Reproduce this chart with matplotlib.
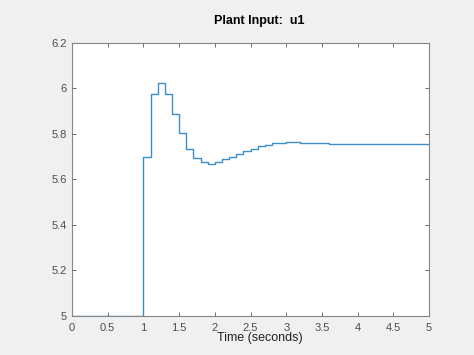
import matplotlib
matplotlib.use("Agg")
import matplotlib.pyplot as plt
import numpy as np

plt.rcParams['font.family'] = ['Liberation Sans', 'DejaVu Sans']

title = "Plant Input:  u1"
xlabel = "Time (seconds)"
sample_time = 0.1
t_start = 0.0
t_end = 5.0
initial_value = 5.0
step_time = 1.0
# sampled plant input values from t=1.0 to t=5.0, every 0.1 s
u1_values = [5.700, 5.975, 6.023, 5.975, 5.888, 5.803, 5.735, 5.695, 5.676, 5.670,
             5.676, 5.689, 5.700, 5.713, 5.725, 5.735, 5.746, 5.753, 5.759, 5.762,
             5.763, 5.763, 5.762, 5.761, 5.760, 5.759, 5.758, 5.757, 5.756, 5.756,
             5.755, 5.755, 5.755, 5.755, 5.755, 5.755, 5.755, 5.755, 5.755, 5.755,
             5.755]
xticks = [0, 0.5, 1, 1.5, 2, 2.5, 3, 3.5, 4, 4.5, 5]
xticklabels = ["0", "0.5", "1", "1.5", "2", "2.5", "3", "3.5", "4", "4.5", "5"]
yticks = [5, 5.2, 5.4, 5.6, 5.8, 6, 6.2]
yticklabels = ["5", "5.2", "5.4", "5.6", "5.8", "6", "6.2"]

t = [t_start] + [step_time + i * sample_time for i in range(len(u1_values))]
u = [initial_value] + u1_values

fig = plt.figure(figsize=(4.74, 3.55), dpi=100, facecolor='#F0F0F0')
ax = fig.add_axes([0.152, 0.110, 0.753, 0.769])
ax.set_facecolor('white')
ax.plot(t, u, drawstyle='steps-post', color='#3C8DC8', linewidth=1.0)
ax.set_xlim(t_start, t_end)
ax.set_ylim(5, 6.2)
ax.set_xticks(xticks)
ax.set_xticklabels(xticklabels)
ax.set_yticks(yticks)
ax.set_yticklabels(yticklabels)
for s in ax.spines.values():
    s.set_color('#858585')
    s.set_linewidth(0.8)
ax.tick_params(direction='in', top=True, right=True, length=3, width=0.6,
               color='#555555', labelcolor='#4D4D4D', labelsize=8)
ax.tick_params(axis='x', pad=5)
ax.tick_params(axis='y', pad=4)
ax.set_title(title, fontsize=9, fontweight='bold', color='black', pad=14, x=0.525)
ax.set_xlabel(xlabel, fontsize=9, color='#222222')
ax.xaxis.set_label_coords(0.527, -0.058)

fig.savefig('out.png', dpi=100, facecolor=fig.get_facecolor())
